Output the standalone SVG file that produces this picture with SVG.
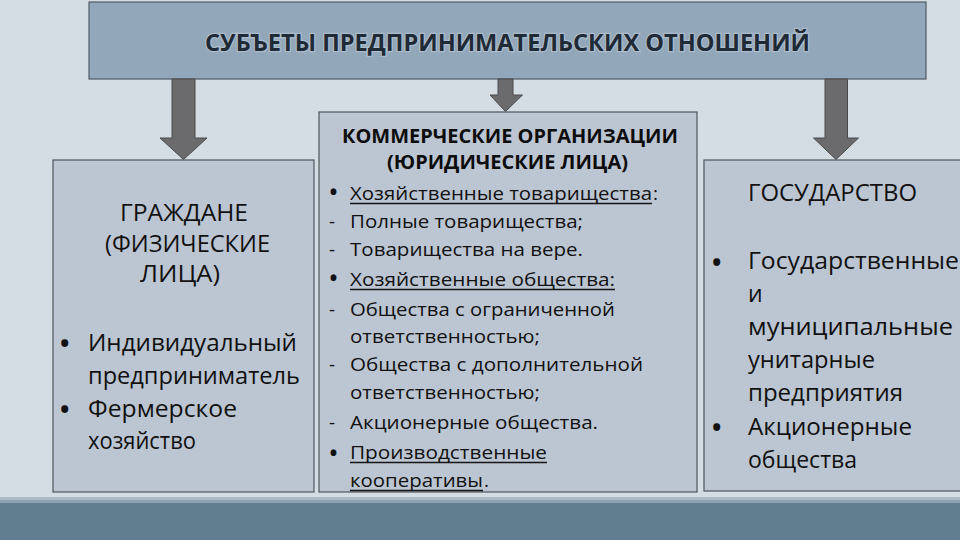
<svg xmlns="http://www.w3.org/2000/svg" width="960" height="540" viewBox="0 0 960 540">
  <defs>
    <style>
      .box { fill: #bcc6d2; stroke: #4f555c; stroke-width: 1.2; }
      .ttl { fill: #92a7b9; stroke: #4f5a66; stroke-width: 1.2; }
      .arrow { fill: #6b6b6e; stroke: #4a4a4d; stroke-width: 1; }
      .t { font-family: "Open Sans", "Noto Sans", "DejaVu Sans", sans-serif; fill: #111111; }
      .tb { font-family: "Open Sans", "Noto Sans", "DejaVu Sans", sans-serif; font-weight: bold; fill: #0d0d0d; }
      .l { font-size: 23px; }
      .m { font-size: 19px; }
      .bl { font-family: "Open Sans", "Noto Sans", "DejaVu Sans", sans-serif; font-weight: bold; font-size: 25px; fill: #111111; }
      .bm { font-family: "Open Sans", "Noto Sans", "DejaVu Sans", sans-serif; font-weight: bold; font-size: 21px; fill: #111111; }
      .ul { stroke: #141414; stroke-width: 1.4; }
    </style>
  </defs>

  <!-- background -->
  <rect x="0" y="0" width="960" height="540" fill="#d4dde4"/>
  <rect x="0" y="497" width="960" height="3" fill="#a9b9c5"/>
  <rect x="0" y="500" width="960" height="3" fill="#8ea2b1"/>
  <rect x="0" y="503" width="960" height="37" fill="#617e91"/>

  <!-- title node -->
  <g id="title">
    <rect class="ttl" x="89" y="2" width="837" height="77"/>
    <text x="205" y="51" font-family="Open Sans, Noto Sans, sans-serif" font-weight="bold" font-size="24" fill="none" stroke="#c3d0da" stroke-width="2.5" stroke-opacity="0.55" textLength="605" lengthAdjust="spacingAndGlyphs">СУБЪЕТЫ ПРЕДПРИНИМАТЕЛЬСКИХ ОТНОШЕНИЙ</text>
    <text x="205" y="51" font-family="Open Sans, Noto Sans, sans-serif" font-weight="bold" font-size="24" fill="#1f2a37" textLength="605" lengthAdjust="spacingAndGlyphs">СУБЪЕТЫ ПРЕДПРИНИМАТЕЛЬСКИХ ОТНОШЕНИЙ</text>
  </g>

  <!-- connectors -->
  <g id="connectors">
    <polygon class="arrow" points="172,79 195,79 195,138 207,138 183.5,159.5 160,138 172,138"/>
    <polygon class="arrow" points="498,79 513,79 513,95 522.5,95 505.5,111.5 490,95 498,95"/>
    <polygon class="arrow" points="825,79 847.5,79 847.5,138 858.5,138 836,159.5 813.5,138 825,138"/>
  </g>

  <!-- left node -->
  <g id="citizens">
    <rect class="box" x="53" y="160" width="261" height="332"/>
    <text class="t l" x="120" y="221" textLength="128" lengthAdjust="spacingAndGlyphs">ГРАЖДАНЕ</text>
    <text class="t l" x="105" y="252" textLength="165" lengthAdjust="spacingAndGlyphs">(ФИЗИЧЕСКИЕ</text>
    <text class="t l" x="140" y="282" textLength="80" lengthAdjust="spacingAndGlyphs">ЛИЦА)</text>
    <text class="bl" x="60" y="351.5">•</text>
    <text class="t l" x="88" y="351" textLength="209" lengthAdjust="spacingAndGlyphs">Индивидуальный</text>
    <text class="t l" x="88" y="384" textLength="212" lengthAdjust="spacingAndGlyphs">предприниматель</text>
    <text class="bl" x="60" y="418">•</text>
    <text class="t l" x="88" y="417" textLength="149" lengthAdjust="spacingAndGlyphs">Фермерское</text>
    <text class="t l" x="88" y="449" textLength="108" lengthAdjust="spacingAndGlyphs">хозяйство</text>
  </g>

  <!-- middle node -->
  <g id="commercial">
    <rect class="box" x="319" y="112" width="378" height="380"/>
    <text class="tb" font-size="20" x="342" y="143" textLength="336" lengthAdjust="spacingAndGlyphs">КОММЕРЧЕСКИЕ ОРГАНИЗАЦИИ</text>
    <text class="tb" font-size="20" x="387" y="169" textLength="241" lengthAdjust="spacingAndGlyphs">(ЮРИДИЧЕСКИЕ ЛИЦА)</text>

    <text class="bm" x="329.5" y="200">•</text>
    <text class="t m" x="350" y="200" textLength="302" lengthAdjust="spacingAndGlyphs">Хозяйственные товарищества</text>
    <text class="t m" x="653" y="200">:</text>
    <line class="ul" x1="350" y1="203.5" x2="652" y2="203.5"/>

    <text class="t m" x="329" y="228">-</text>
    <text class="t m" x="350" y="228" textLength="233" lengthAdjust="spacingAndGlyphs">Полные товарищества;</text>

    <text class="t m" x="329" y="256">-</text>
    <text class="t m" x="350" y="256" textLength="233" lengthAdjust="spacingAndGlyphs">Товарищества на вере.</text>

    <text class="bm" x="329.5" y="285.5">•</text>
    <text class="t m" x="350" y="286" textLength="265" lengthAdjust="spacingAndGlyphs">Хозяйственные общества:</text>
    <line class="ul" x1="350" y1="289.5" x2="615" y2="289.5"/>

    <text class="t m" x="329" y="316">-</text>
    <text class="t m" x="350" y="316" textLength="265" lengthAdjust="spacingAndGlyphs">Общества с ограниченной</text>
    <text class="t m" x="350" y="343" textLength="190" lengthAdjust="spacingAndGlyphs">ответственностью;</text>

    <text class="t m" x="329" y="371">-</text>
    <text class="t m" x="350" y="371" textLength="293" lengthAdjust="spacingAndGlyphs">Общества с дополнительной</text>
    <text class="t m" x="350" y="399" textLength="190" lengthAdjust="spacingAndGlyphs">ответственностью;</text>

    <text class="t m" x="329" y="429">-</text>
    <text class="t m" x="350" y="429" textLength="248" lengthAdjust="spacingAndGlyphs">Акционерные общества.</text>

    <text class="bm" x="329.5" y="460.5">•</text>
    <text class="t m" x="350" y="459" textLength="197" lengthAdjust="spacingAndGlyphs">Производственные</text>
    <line class="ul" x1="350" y1="462.5" x2="547" y2="462.5"/>

    <text class="t m" x="350" y="487" textLength="133" lengthAdjust="spacingAndGlyphs">кооперативы</text>
    <text class="t m" x="484" y="487">.</text>
    <line class="ul" x1="350" y1="490.5" x2="483" y2="490.5"/>
  </g>

  <!-- right node -->
  <g id="state">
    <rect class="box" x="704" y="160" width="270" height="331"/>
    <text class="t l" x="748" y="201" textLength="169" lengthAdjust="spacingAndGlyphs">ГОСУДАРСТВО</text>
    <text class="bl" x="712" y="270.5">•</text>
    <text class="t l" x="748" y="269" textLength="211" lengthAdjust="spacingAndGlyphs">Государственные</text>
    <text class="t l" x="748" y="302">и</text>
    <text class="t l" x="748" y="335" textLength="205" lengthAdjust="spacingAndGlyphs">муниципальные</text>
    <text class="t l" x="748" y="368" textLength="127" lengthAdjust="spacingAndGlyphs">унитарные</text>
    <text class="t l" x="748" y="401" textLength="155" lengthAdjust="spacingAndGlyphs">предприятия</text>
    <text class="bl" x="712" y="435.5">•</text>
    <text class="t l" x="748" y="435" textLength="164" lengthAdjust="spacingAndGlyphs">Акционерные</text>
    <text class="t l" x="748" y="468" textLength="109" lengthAdjust="spacingAndGlyphs">общества</text>
  </g>
</svg>
